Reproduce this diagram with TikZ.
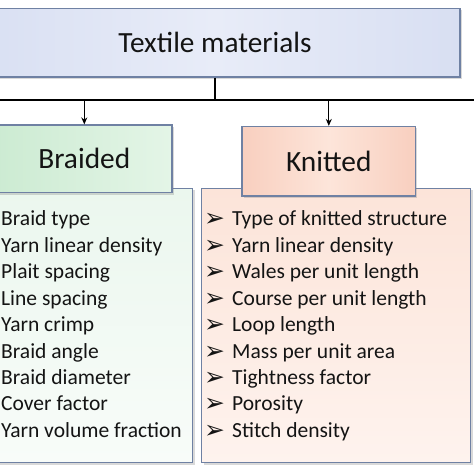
\documentclass[tikz,border=0pt]{standalone}
\usepackage{fontspec}
\setmainfont{Carlito}
\newfontfamily\symfont{DejaVu Sans}
\usetikzlibrary{arrows.meta,shadows}
\definecolor{bordc}{HTML}{6F81A3}
\definecolor{topA}{HTML}{D8DFF2}
\definecolor{topB}{HTML}{E8ECF8}
\definecolor{grA}{HTML}{CCEBD2}
\definecolor{grB}{HTML}{E4F5E7}
\definecolor{grlA}{HTML}{EBF7EE}
\definecolor{grlB}{HTML}{F8FCF9}
\definecolor{pkA}{HTML}{F8CFBF}
\definecolor{pkB}{HTML}{FDE5DA}
\definecolor{pklA}{HTML}{FCE4D9}
\definecolor{pklB}{HTML}{FEF3EE}
\definecolor{txt}{HTML}{141414}
\begin{document}
\begin{tikzpicture}[x=1bp,y=-1bp,
  box/.style={draw=bordc,line width=1.3bp,inner sep=0pt,
    drop shadow={shadow xshift=1.8bp,shadow yshift=-1.8bp,opacity=0.3}},
  item/.style={anchor=base west,inner sep=0pt,text=txt,font=\fontsize{21.6}{24}\selectfont},
  bul/.style={anchor=base west,inner sep=0pt,text=txt,font=\symfont\fontsize{25}{28}\selectfont},
  conn/.style={line width=1.3bp,black},
  arr/.style={conn,-{Stealth[length=7bp,width=6bp]}}]
\useasboundingbox (0,0) rectangle (474,474);
\clip (0,0) rectangle (474,474);
% top box
\node[box,minimum width=490bp,minimum height=68.7bp,left color=topA,right color=topA,middle color=topB,
  text=txt,font=\fontsize{29.4}{32}\selectfont] (top) at (215,42.7) {Textile materials};
% list boxes
\node[box,minimum width=270bp,minimum height=274.4bp,top color=grlA,bottom color=grlB] (blist) at (57.7,325.5) {};
\node[box,minimum width=269bp,minimum height=274.4bp,top color=pklA,bottom color=pklB] (klist) at (336.2,325.5) {};
% header boxes
\node[box,minimum width=175.4bp,minimum height=67.7bp,left color=grA,right color=grB,
  text=txt,font=\fontsize{29.5}{32}\selectfont] (braided) at (84.3,158.9) {Braided};
\node[box,minimum width=173.7bp,minimum height=69.5bp,left color=pkA,right color=pkA,middle color=pkB,
  text=txt,font=\fontsize{29.5}{32}\selectfont] (knitted) at (328.8,161.3) {Knitted};
% connectors
\coordinate (j) at (215,100);
\coordinate (hl) at (-5,100);
\coordinate (hr) at (479,100);
\draw[conn] (top.south) -- (j);
\draw[conn] (hl) -- (hr);
\draw[arr] (braided.north |- j) -- (braided.north);
\draw[arr] (knitted.north |- j) -- (knitted.north);
% braided items
\foreach \t [count=\i from 0] in {Braid type,Yarn linear density,Plait spacing,Line spacing,Yarn crimp,Braid angle,Braid diameter,Cover factor,Yarn volume fraction}{
  \node[item] (b\i) at (1,226+26.4*\i) {\t};
}
% knitted items
\foreach \t [count=\i from 0] in {Type of knitted structure,Yarn linear density,Wales per unit length,Course per unit length,Loop length,Mass per unit area,Tightness factor,Porosity,Stitch density}{
  \node[bul] (kb\i) at (204,227+26.4*\i) {➢};
  \node[item] (k\i) at (232,226+26.4*\i) {\t};
}
\end{tikzpicture}
\end{document}
